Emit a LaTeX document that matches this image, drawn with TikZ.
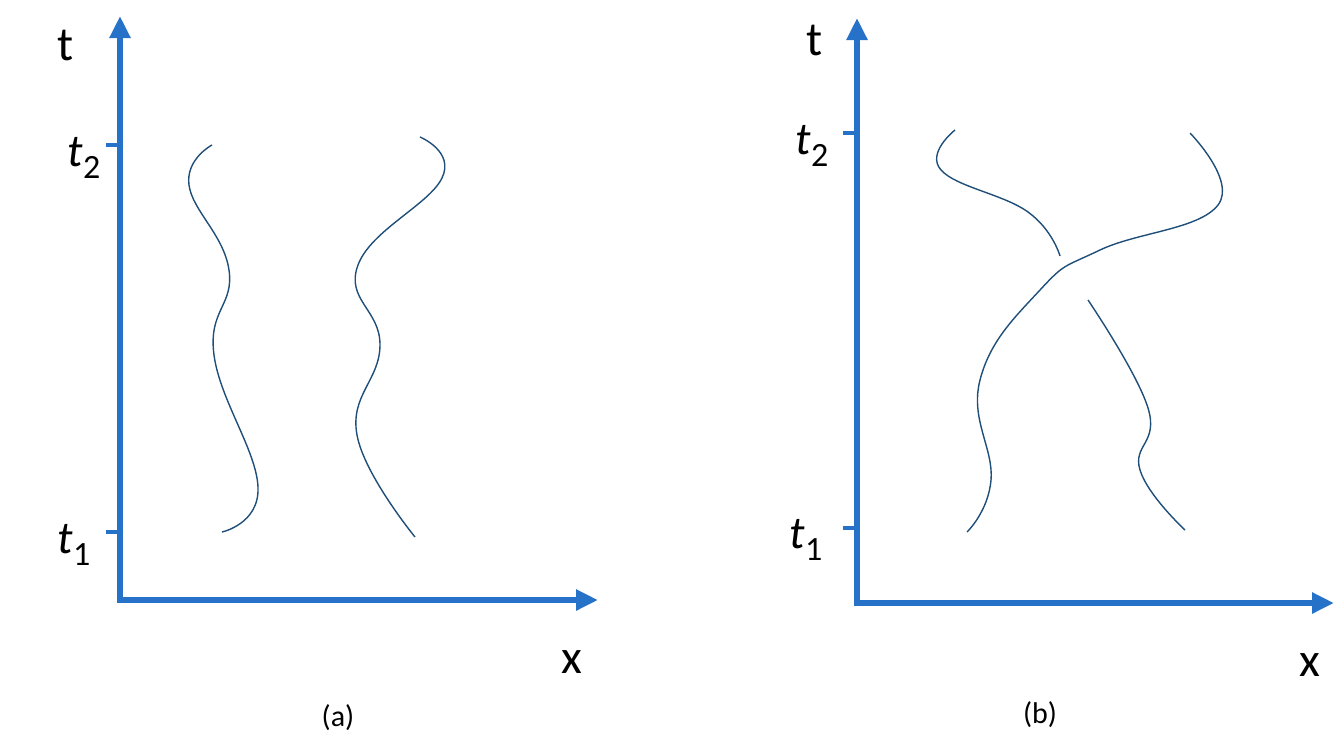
\documentclass[tikz,border=0pt]{standalone}
\usepackage{fontspec}
\setmainfont{Carlito}
\usetikzlibrary{arrows.meta}
\definecolor{axc}{HTML}{2672C8}
\definecolor{cvc}{HTML}{1F4E79}
\newcommand{\tsub}[1]{\textit{t}\raisebox{-0.25em}{\fontsize{34}{34}\selectfont #1}}
\begin{document}
\begin{tikzpicture}[x=1pt,y=-1pt,
  axis/.style={axc,line width=6pt,-{Triangle[length=22pt,width=20pt]}},
  tick/.style={axc,line width=4pt},
  curve/.style={cvc,line width=1.4pt,smooth,tension=0.75},
  big/.style={font=\fontsize{48}{48}\selectfont},
  tl/.style={font=\fontsize{46}{46}\selectfont},
  captext/.style={font=\fontsize{30}{30}\selectfont}]
\useasboundingbox (0,0) rectangle (1341,748);
% (a)
\coordinate (at) at (120,16); \coordinate (ax) at (598,600);
\draw[axis] (120,603) -- (at);
\draw[axis] (117,600) -- (ax);
\coordinate (a2) at (106,145); \coordinate (a2e) at (120,145);
\coordinate (a1) at (106,532); \coordinate (a1e) at (120,532);
\draw[tick] (a2) -- (a2e); \draw[tick] (a1) -- (a1e);
\node[big] (lt) at (66,45) {t};
\node[big] (lx) at (572,662) {x};
\node[tl] (lt2) at (84,158) {\tsub{2}};
\node[tl] (lt1) at (74,545) {\tsub{1}};
\node[captext] (ca) at (338,718) {(a)};
\draw[curve] plot coordinates {(212,145) (189,185) (229,270) (214,355) (258,487) (222,532)};
\draw[curve] plot coordinates {(420,137) (442,178) (358,265) (380,345) (357,435) (415,537)};
% (b)
\coordinate (bt) at (857,18); \coordinate (bx) at (1334,603);
\draw[axis] (857,606) -- (bt);
\draw[axis] (854,603) -- (bx);
\coordinate (b2) at (843,133); \coordinate (b2e) at (857,133);
\coordinate (b1) at (843,528); \coordinate (b1e) at (857,528);
\draw[tick] (b2) -- (b2e); \draw[tick] (b1) -- (b1e);
\node[big] (mt) at (815,40) {t};
\node[big] (mx) at (1310,665) {x};
\node[tl] (mt2) at (812,146) {\tsub{2}};
\node[tl] (mt1) at (806,540) {\tsub{1}};
\node[captext] (cb) at (1040,715) {(b)};
\draw[curve] plot coordinates {(955,130) (941,170) (1028,212) (1060,256)};
\draw[curve] plot coordinates {(1190,133) (1218,205) (1100,250) (1040,290) (980,380) (991,480) (967,532)};
\draw[curve] plot coordinates {(1088,300) (1148,408) (1140,470) (1185,530)};
\end{tikzpicture}
\end{document}
